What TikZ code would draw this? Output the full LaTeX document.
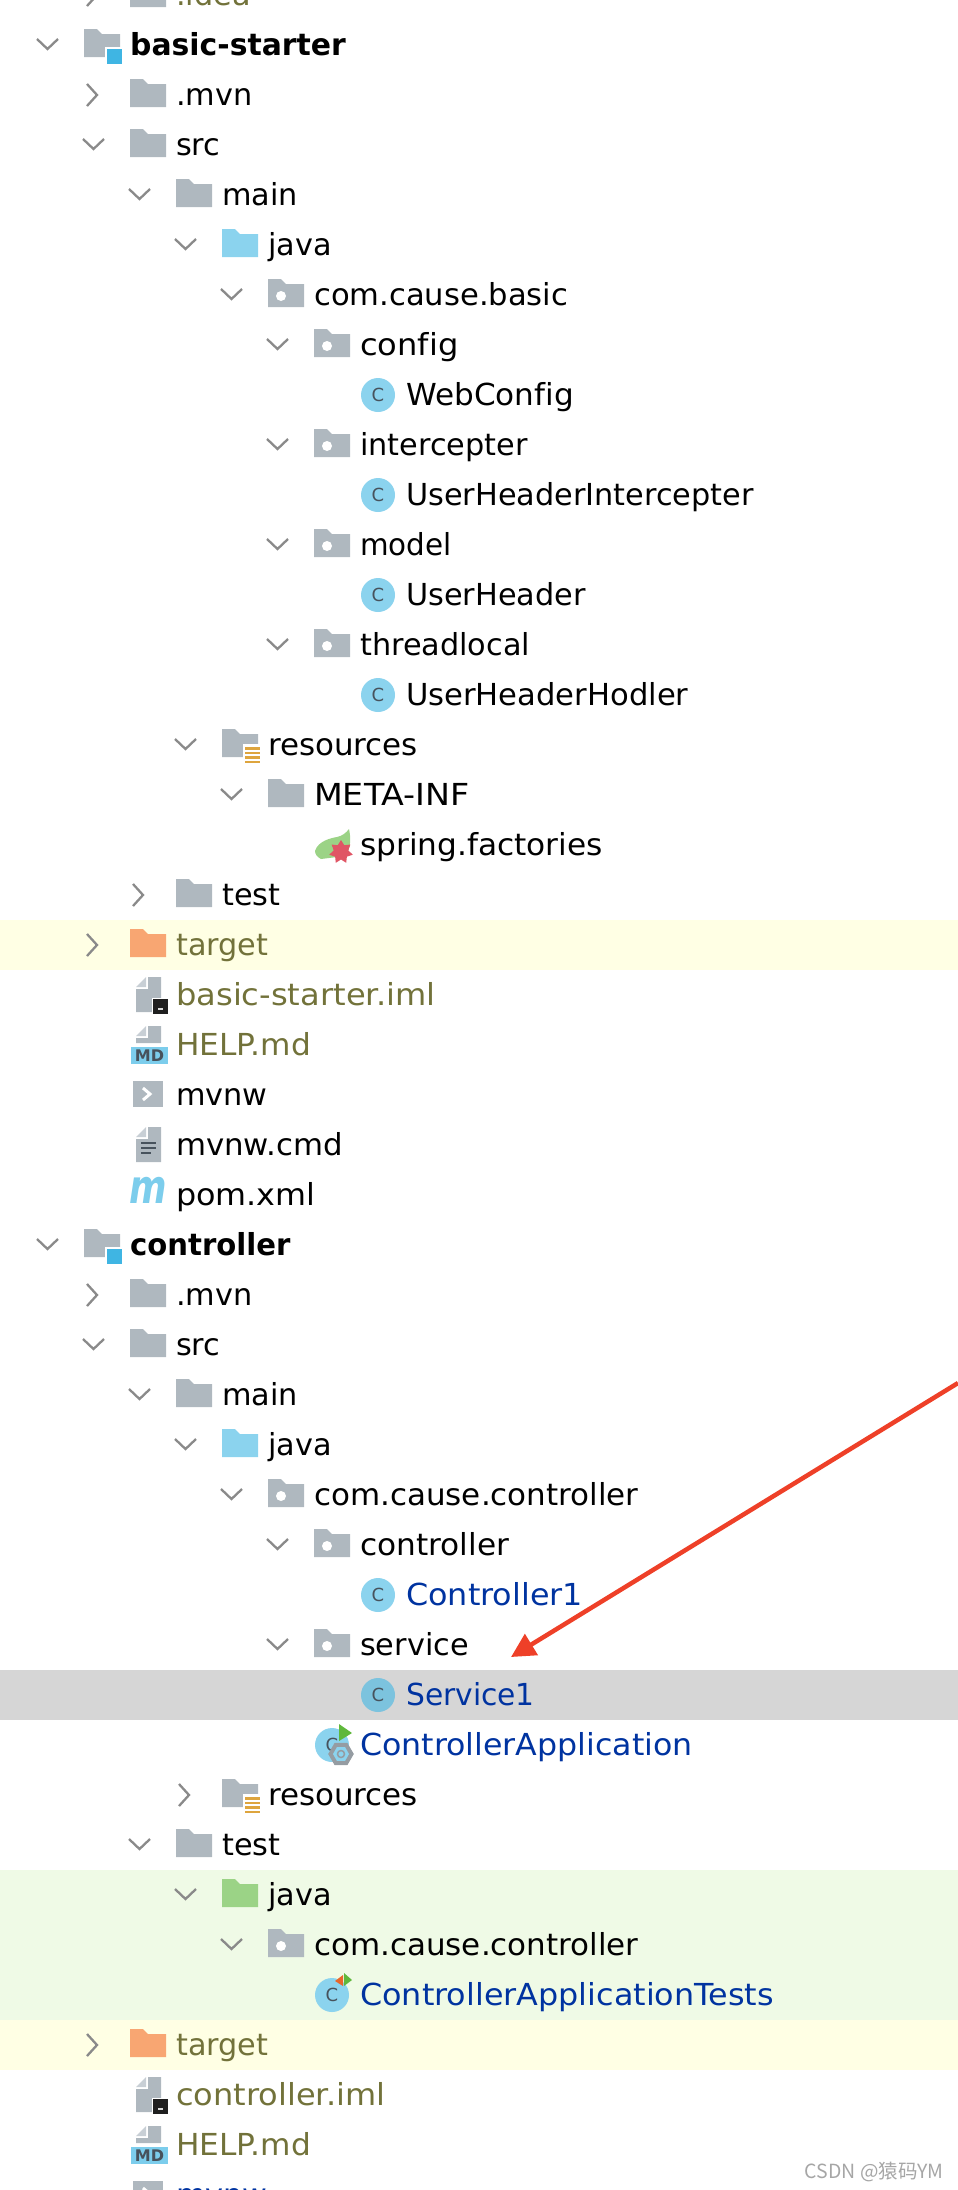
\documentclass[tikz,border=0pt]{standalone}
\usepackage{fontspec}
\setmainfont[Ligatures=NoCommon]{DejaVu Sans}
\newfontfamily\cjk{Noto Sans CJK SC}
\usetikzlibrary{arrows.meta}
\usetikzlibrary{shapes.geometric}
\definecolor{FolderGray}{HTML}{AFB8BF}
\definecolor{FolderBlue}{HTML}{8BD3EE}
\definecolor{FolderGreen}{HTML}{9BD386}
\definecolor{FolderOrange}{HTML}{F8A672}
\definecolor{PaperLight}{HTML}{C8CFD5}
\definecolor{ModuleBlue}{HTML}{3FB5E3}
\definecolor{ResOrange}{HTML}{DEA53E}
\definecolor{MarkGray}{HTML}{8A8A8A}
\definecolor{TextOlive}{HTML}{72723A}
\definecolor{TextBlue}{HTML}{0033A0}
\definecolor{BandYellow}{HTML}{FFFFE4}
\definecolor{BandGreen}{HTML}{EFFAE6}
\definecolor{BandGray}{HTML}{D6D6D6}
\definecolor{ClassBlue}{HTML}{8BD3EE}
\definecolor{ClassDark}{HTML}{7CC3DE}
\definecolor{LetterGray}{HTML}{47525C}
\definecolor{ArrowRed}{HTML}{EE4028}
\definecolor{WaterGray}{HTML}{A6A6A6}
\definecolor{StarRed}{HTML}{E05565}
\definecolor{RunGreen}{HTML}{5FB83B}
\definecolor{TestOrange}{HTML}{E8662A}
\definecolor{PomBlue}{HTML}{7CCDEC}
\tikzset{
rowtext/.style={anchor=base west,inner sep=0pt,font=\fontsize{30.3}{36}\selectfont},
marktick/.style={draw=MarkGray,line width=2.3pt},
classletter/.style={inner sep=0pt,text=LetterGray,font=\fontsize{18}{18}\selectfont},
}

\begin{document}
\begin{tikzpicture}[x=1pt,y=-1pt]
\newcommand{\OpenMark}[2]{\draw[marktick] ({37+46*#1},{39+50*#2}) -- ({47.5+46*#1},{49+50*#2}) -- ({58+46*#1},{39+50*#2});}
\newcommand{\ShutMark}[2]{\draw[marktick] ({41+46*#1},{34+50*#2}) -- ({51+46*#1},{45+50*#2}) -- ({41+46*#1},{56+50*#2});}
\newcommand{\Folder}[3]{\fill[#3,shift={({84+46*#1},{29+50*#2})}] (0,0) -- (13,0) -- (18,5) -- (36,5) -- (36,28) -- (0,28) -- cycle;}
\newcommand{\PackDot}[2]{\fill[white] ({97+46*#1},{46+50*#2}) circle (5);}
\newcommand{\ModBadge}[1]{\fill[white] (105,{47+50*#1}) rectangle (124,{66+50*#1}); \fill[ModuleBlue] (107,{49+50*#1}) rectangle (122,{64+50*#1});}
\newcommand{\ResBadge}[2]{\fill[white] ({105+46*#1},{44+50*#2}) rectangle ({124+46*#1},{64+50*#2});
\foreach \Bar in {0,1,2,3} {\fill[ResOrange] ({107+46*#1},{47+50*#2+4.6*\Bar}) rectangle ({122+46*#1},{49.5+50*#2+4.6*\Bar});}}
\newcommand{\ClassIcon}[4]{\fill[#4] ({#1+18+46*#2},{45+50*#3}) circle (17); \node[classletter] (Letter#3) at ({#1+18+46*#2},{45+50*#3}) {C};}
\newcommand{\Label}[5]{\node[rowtext,text=#4] (#1) at ({130+46*#2},{55+50*#3}) {#5};}
\newcommand{\Wide}[2]{\scalebox{#1}[1]{#2}}
\newcommand{\Paper}[1]{\fill[PaperLight,shift={(136,{27+50*#1})}] (0,10) -- (10,0) -- (10,10) -- cycle; \fill[FolderGray,shift={(136,{27+50*#1})}] (12,0) -- (25,0) -- (25,35) -- (0,35) -- (0,12) -- (12,12) -- cycle;}
\newcommand{\ImlBadge}[1]{\fill[white] (152,{48+50*#1}) rectangle (169,{65+50*#1}); \fill[black!88] (153,{49+50*#1}) rectangle (168,{64+50*#1}); \fill[white!85!black] (158,{58+50*#1}) rectangle (163,{60+50*#1});}
\newcommand{\HelpIcon}[1]{\fill[PaperLight,shift={(136,{26+50*#1})}] (0,10) -- (10,0) -- (10,10) -- cycle; \fill[FolderGray,shift={(136,{26+50*#1})}] (12,0) -- (25,0) -- (25,17) -- (0,17) -- (0,12) -- (12,12) -- cycle; \fill[PomBlue] (131,{47+50*#1}) rectangle (168,{64+50*#1}); \node[inner sep=0pt,text=LetterGray,font=\fontsize{16}{16}\selectfont\bfseries] (Md#1) at (149.5,{56+50*#1}) {MD};}
\newcommand{\ShellIcon}[1]{\fill[FolderGray] (133,{31+50*#1}) rectangle (163,{57+50*#1}); \draw[white,line width=3pt] (143,{38+50*#1}) -- (150,{44+50*#1}) -- (143,{50+50*#1});}

\begin{scope}
\clip (0,0) rectangle (958,2190);
% row bands
\fill[BandYellow] (0,920) rectangle (958,970);
\fill[BandYellow] (0,2020) rectangle (958,2070);
\fill[BandGreen] (0,1870) rectangle (958,2020);
\fill[BandGray] (0,1670) rectangle (958,1720);

% first module
\ShutMark{1}{-1} \Folder{1}{-1}{FolderGray} \Label{Idea}{1}{-1}{TextOlive}{.idea}
\OpenMark{0}{0} \Folder{0}{0}{FolderGray} \ModBadge{0} \Label{BasicStarter}{0}{0}{black}{\Wide{0.985}{\bfseries basic-starter}}
\ShutMark{1}{1} \Folder{1}{1}{FolderGray} \Label{MvnA}{1}{1}{black}{.mvn}
\OpenMark{1}{2} \Folder{1}{2}{FolderGray} \Label{SrcA}{1}{2}{black}{src}
\OpenMark{2}{3} \Folder{2}{3}{FolderGray} \Label{MainA}{2}{3}{black}{main}
\OpenMark{3}{4} \Folder{3}{4}{FolderBlue} \Label{JavaA}{3}{4}{black}{java}
\OpenMark{4}{5} \Folder{4}{5}{FolderGray} \PackDot{4}{5} \Label{PackBasic}{4}{5}{black}{\Wide{1.01}{com.cause.basic}}
\OpenMark{5}{6} \Folder{5}{6}{FolderGray} \PackDot{5}{6} \Label{Config}{5}{6}{black}{\Wide{1.06}{config}}
\ClassIcon{84}{6}{7}{ClassBlue} \Label{WebConfig}{6}{7}{black}{\Wide{1.026}{WebConfig}}
\OpenMark{5}{8} \Folder{5}{8}{FolderGray} \PackDot{5}{8} \Label{Intercepter}{5}{8}{black}{intercepter}
\ClassIcon{84}{6}{9}{ClassBlue} \Label{UserIntercepter}{6}{9}{black}{UserHeaderIntercepter}
\OpenMark{5}{10} \Folder{5}{10}{FolderGray} \PackDot{5}{10} \Label{Model}{5}{10}{black}{\Wide{0.97}{model}}
\ClassIcon{84}{6}{11}{ClassBlue} \Label{UserHeader}{6}{11}{black}{UserHeader}
\OpenMark{5}{12} \Folder{5}{12}{FolderGray} \PackDot{5}{12} \Label{Threadlocal}{5}{12}{black}{threadlocal}
\ClassIcon{84}{6}{13}{ClassBlue} \Label{UserHodler}{6}{13}{black}{\Wide{1.01}{UserHeaderHodler}}
\OpenMark{3}{14} \Folder{3}{14}{FolderGray} \ResBadge{3}{14} \Label{ResA}{3}{14}{black}{\Wide{1.02}{resources}}
\OpenMark{4}{15} \Folder{4}{15}{FolderGray} \Label{MetaInf}{4}{15}{black}{\Wide{1.1}{META-INF}}
\fill[FolderGreen,shift={(315,829)}] (0,22) .. controls (3,12) and (16,9) .. (22,8) .. controls (27,7) and (31,4) .. (34,0) .. controls (36,9) and (36,20) .. (30,27) -- (6,30) .. controls (2,28) and (0,25) .. (0,22) -- cycle;% Leaf
\node[star,star points=7,star point ratio=1.6,fill=StarRed,inner sep=0pt,minimum size=24pt] (SpringStar) at (341,852) {};
\Label{SpringFactories}{5}{16}{black}{\Wide{1.03}{spring.factories}}
\ShutMark{2}{17} \Folder{2}{17}{FolderGray} \Label{TestA}{2}{17}{black}{test}
\ShutMark{1}{18} \Folder{1}{18}{FolderOrange} \Label{TargetA}{1}{18}{TextOlive}{target}
\Paper{19} \ImlBadge{19} \Label{BasicIml}{1}{19}{TextOlive}{\Wide{1.06}{basic-starter.iml}}
\HelpIcon{20} \Label{HelpA}{1}{20}{TextOlive}{\Wide{1.03}{HELP.md}}
\ShellIcon{21} \Label{MvnwA}{1}{21}{black}{mvnw}
\Paper{22} \Label{MvnwCmd}{1}{22}{black}{\Wide{1.017}{mvnw.cmd}}
\draw[LetterGray,line width=2pt] (141,1143) -- (156,1143) (141,1148) -- (156,1148) (141,1153) -- (151,1153);% Cmd lines
\node[inner sep=0pt,text=PomBlue,font=\fontsize{36}{36}\selectfont\bfseries\itshape] (PomM) at (148,1190) {\scalebox{1}[1.3]{m}};
\Label{PomA}{1}{23}{black}{\Wide{1.05}{pom.xml}}

% second module
\OpenMark{0}{24} \Folder{0}{24}{FolderGray} \ModBadge{24} \Label{ControllerRoot}{0}{24}{black}{\Wide{0.96}{\bfseries controller}}
\ShutMark{1}{25} \Folder{1}{25}{FolderGray} \Label{MvnB}{1}{25}{black}{.mvn}
\OpenMark{1}{26} \Folder{1}{26}{FolderGray} \Label{SrcB}{1}{26}{black}{src}
\OpenMark{2}{27} \Folder{2}{27}{FolderGray} \Label{MainB}{2}{27}{black}{main}
\OpenMark{3}{28} \Folder{3}{28}{FolderBlue} \Label{JavaB}{3}{28}{black}{java}
\OpenMark{4}{29} \Folder{4}{29}{FolderGray} \PackDot{4}{29} \Label{PackCtrl}{4}{29}{black}{\Wide{1.022}{com.cause.controller}}
\OpenMark{5}{30} \Folder{5}{30}{FolderGray} \PackDot{5}{30} \Label{CtrlPack}{5}{30}{black}{\Wide{1.03}{controller}}
\ClassIcon{84}{6}{31}{ClassBlue} \Label{CtrlOne}{6}{31}{TextBlue}{\Wide{1.05}{Controller1}}
\OpenMark{5}{32} \Folder{5}{32}{FolderGray} \PackDot{5}{32} \Label{ServicePack}{5}{32}{black}{service}
\ClassIcon{84}{6}{33}{ClassDark} \Label{ServiceOne}{6}{33}{TextBlue}{\Wide{0.98}{Service1}}
\ClassIcon{84}{5}{34}{ClassBlue}
\fill[RunGreen] (339,1724) -- (352,1733) -- (339,1741) -- cycle;% Run mark
\node[regular polygon,regular polygon sides=6,draw=FolderGray!85!black,line width=4pt,fill=ClassBlue,inner sep=0pt,minimum size=21pt] (BootNut) at (341,1754) {};
\draw[FolderGray!85!black,line width=1.5pt] (BootNut.center) circle (3.5);
\Label{CtrlApp}{5}{34}{TextBlue}{\Wide{1.044}{ControllerApplication}}
\ShutMark{3}{35} \Folder{3}{35}{FolderGray} \ResBadge{3}{35} \Label{ResB}{3}{35}{black}{\Wide{1.02}{resources}}
\OpenMark{2}{36} \Folder{2}{36}{FolderGray} \Label{TestB}{2}{36}{black}{test}
\OpenMark{3}{37} \Folder{3}{37}{FolderGreen} \Label{JavaC}{3}{37}{black}{java}
\OpenMark{4}{38} \Folder{4}{38}{FolderGray} \PackDot{4}{38} \Label{PackTest}{4}{38}{black}{\Wide{1.022}{com.cause.controller}}
\ClassIcon{84}{5}{39}{ClassBlue}
\fill[TestOrange] (343,1975) -- (335,1981) -- (343,1986) -- cycle;% Test mark
\fill[RunGreen] (344,1973) -- (352,1980) -- (344,1986) -- cycle;% Test mark
\Label{CtrlTests}{5}{39}{TextBlue}{\Wide{1.05}{ControllerApplicationTests}}
\ShutMark{1}{40} \Folder{1}{40}{FolderOrange} \Label{TargetB}{1}{40}{TextOlive}{target}
\Paper{41} \ImlBadge{41} \Label{CtrlIml}{1}{41}{TextOlive}{\Wide{1.057}{controller.iml}}
\HelpIcon{42} \Label{HelpB}{1}{42}{TextOlive}{\Wide{1.03}{HELP.md}}
\ShellIcon{43} \Label{MvnwB}{1}{43}{TextBlue}{mvnw}

\coordinate (ArrowStart) at (958,1383);
\coordinate (ArrowTip) at (511,1657);
\draw[ArrowRed,line width=4.5pt,-{Triangle[length=24pt,width=24pt]}] (ArrowStart) -- (ArrowTip);
\node[anchor=east,inner sep=0pt,text=WaterGray,font=\cjk\fontsize{19.5}{20}\selectfont] (WaterMark) at (944,2172) {CSDN @猿码YM};
\end{scope}
\end{tikzpicture}
\end{document}
